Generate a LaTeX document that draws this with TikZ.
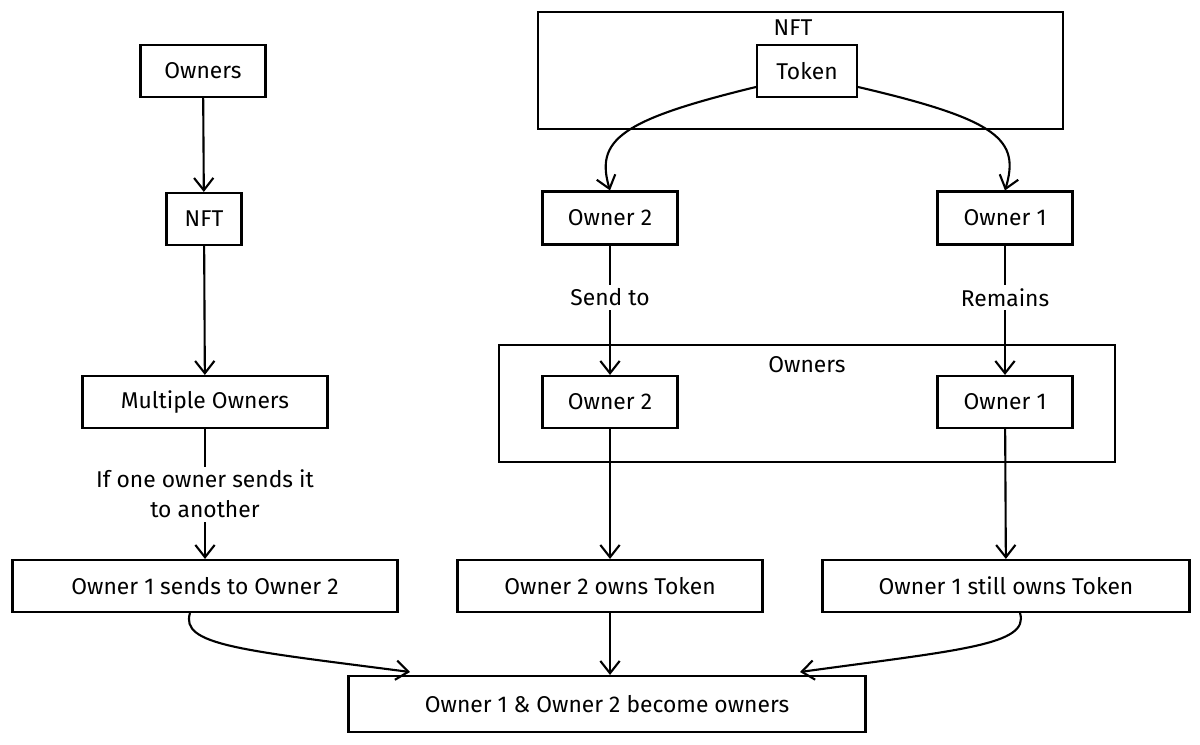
\documentclass[tikz,border=0pt]{standalone}
\usepackage{fontspec}
\setmainfont{Fira Sans}
\usetikzlibrary{arrows.meta}
\begin{document}
\begin{tikzpicture}[x=0.02cm,y=-0.02cm,
  box/.style={draw,line width=1.2pt,inner sep=0pt,font=\fontsize{13}{16}\selectfont},
  cont/.style={draw,line width=1.2pt},
  lbl/.style={font=\fontsize{13}{17}\selectfont,fill=white,inner sep=2pt,align=center},
  arr/.style={-{Straight Barb[length=7pt,width=11pt]},line width=1.2pt}]
\useasboundingbox (0,0) rectangle (1200,744);
\node[cont,minimum width=525*0.02cm,minimum height=117*0.02cm] (nftc) at (800.5,70.5) {};
\node[font=\fontsize{13}{16}\selectfont] (nftl) at (793,28) {NFT};
\node[cont,minimum width=616*0.02cm,minimum height=117*0.02cm] (ownc) at (807,403.5) {};
\node[font=\fontsize{13}{16}\selectfont] (ownl) at (807,365) {Owners};
\node[box,minimum width=125*0.02cm,minimum height=52*0.02cm] (owners) at (203,71) {Owners};
\node[box,minimum width=75*0.02cm,minimum height=52*0.02cm] (nft) at (204,219) {NFT};
\node[box,minimum width=245*0.02cm,minimum height=52*0.02cm] (mult) at (205,402) {Multiple Owners};
\node[box,minimum width=385*0.02cm,minimum height=52*0.02cm] (o1s) at (205,586) {Owner 1 sends to Owner 2};
\node[box,minimum width=100*0.02cm,minimum height=52*0.02cm] (token) at (807,71) {Token};
\node[box,minimum width=135*0.02cm,minimum height=53*0.02cm] (o2t) at (610,218) {Owner 2};
\node[box,minimum width=135*0.02cm,minimum height=53*0.02cm] (o1t) at (1005,218) {Owner 1};
\node[box,minimum width=135*0.02cm,minimum height=52*0.02cm] (o2i) at (610,402) {Owner 2};
\node[box,minimum width=135*0.02cm,minimum height=52*0.02cm] (o1i) at (1005,402) {Owner 1};
\node[box,minimum width=305*0.02cm,minimum height=52*0.02cm] (o2o) at (610,586) {Owner 2 owns Token};
\node[box,minimum width=367*0.02cm,minimum height=52*0.02cm] (o1o) at (1006,586) {Owner 1 still owns Token};
\node[box,minimum width=517*0.02cm,minimum height=56*0.02cm] (fin) at (607,704) {Owner 1 \& Owner 2 become owners};
\draw[arr] (owners) -- (nft);
\draw[arr] (nft) -- (mult);
\draw[arr] (mult) -- node[lbl] {If one owner sends it\\to another} (o1s);
\draw[arr] (token.west|-0,87) .. controls (620,120) and (595,140) .. (o2t.north);
\draw[arr] (token.east|-0,87) .. controls (1000,120) and (1020,140) .. (o1t.north);
\draw[arr] (o2t) -- node[lbl,pos=0.4] {Send to} (o2i);
\draw[arr] (o1t) -- node[lbl,pos=0.4] {Remains} (o1i);
\draw[arr] (o2i) -- (o2o);
\draw[arr] (o1i) -- (o1o);
\draw[arr] (o2o) -- (o2o|-fin.north);
\draw[arr] (o1s.south-|190,0) .. controls (180,645) and (240,650) .. (410,672);
\draw[arr] (o1o.south-|1020,0) .. controls (1030,645) and (960,650) .. (800,672);
\end{tikzpicture}
\end{document}
